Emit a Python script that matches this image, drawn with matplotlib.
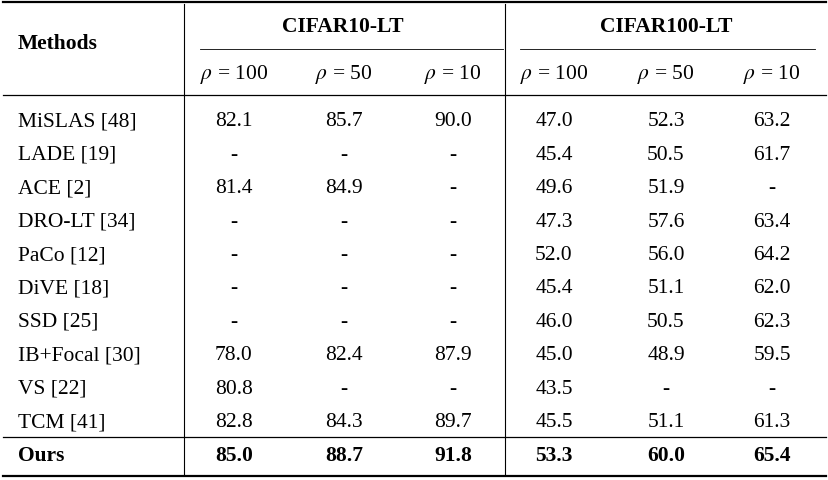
import matplotlib
matplotlib.use("Agg")
import matplotlib.pyplot as plt

methods = ["MiSLAS [48]", "LADE [19]", "ACE [2]", "DRO-LT [34]", "PaCo [12]", "DiVE [18]",
           "SSD [25]", "IB+Focal [30]", "VS [22]", "TCM [41]", "Ours"]
cifar10 = [["82.1", "85.7", "90.0"], ["-", "-", "-"], ["81.4", "84.9", "-"], ["-", "-", "-"],
           ["-", "-", "-"], ["-", "-", "-"], ["-", "-", "-"], ["78.0", "82.4", "87.9"],
           ["80.8", "-", "-"], ["82.8", "84.3", "89.7"], ["85.0", "88.7", "91.8"]]
cifar100 = [["47.0", "52.3", "63.2"], ["45.4", "50.5", "61.7"], ["49.6", "51.9", "-"],
            ["47.3", "57.6", "63.4"], ["52.0", "56.0", "64.2"], ["45.4", "51.1", "62.0"],
            ["46.0", "50.5", "62.3"], ["45.0", "48.9", "59.5"], ["43.5", "-", "-"],
            ["45.5", "51.1", "61.3"], ["53.3", "60.0", "65.4"]]
groups = ["CIFAR10-LT", "CIFAR100-LT"]
rhos = ["100", "50", "10"]

plt.rcParams['font.family'] = ['Liberation Serif', 'DejaVu Serif']
plt.rcParams['mathtext.fontset'] = 'stix'
fig = plt.figure(figsize=(8.29, 4.81), dpi=100)
ax = fig.add_axes([0, 0, 1, 1])
ax.set_xlim(0, 829); ax.set_ylim(481, 0); ax.axis('off')

fs = 15.5
xs = [234, 344, 453, 554, 666, 772]
ax.plot([3, 826], [3, 3], color='black', lw=1.6)
ax.plot([3, 826], [96, 96], color='black', lw=0.9)
ax.plot([3, 826], [438, 438], color='black', lw=0.9)
ax.plot([3, 826], [477, 477], color='black', lw=1.6)
ax.plot([200, 503], [50, 50], color='black', lw=0.6)
ax.plot([520, 815], [50, 50], color='black', lw=0.6)
for vx in [184, 505]:
    ax.plot([vx, vx], [5, 475], color='black', lw=0.8)

ax.text(18, 44, "Methods", fontsize=fs, fontweight='bold', va='center')
ax.text(343, 27, groups[0], fontsize=fs, fontweight='bold', va='center', ha='center')
ax.text(666, 27, groups[1], fontsize=fs, fontweight='bold', va='center', ha='center')
for i, x in enumerate(xs):
    ax.text(x, 75, r"$\rho$ = " + rhos[i % 3], fontsize=fs, va='center', ha='center')

y0, dy = 122, 33.4
for r, m in enumerate(methods):
    y = y0 + r * dy
    bold = (m == "Ours")
    fw = 'bold' if bold else 'normal'
    ax.text(18, y, m, fontsize=fs, fontweight=fw, va='center')
    vals = cifar10[r] + cifar100[r]
    for x, v in zip(xs, vals):
        ax.text(x, y, v, fontsize=fs, fontweight=fw, va='center', ha='center')

fig.savefig("out.png", dpi=100)
